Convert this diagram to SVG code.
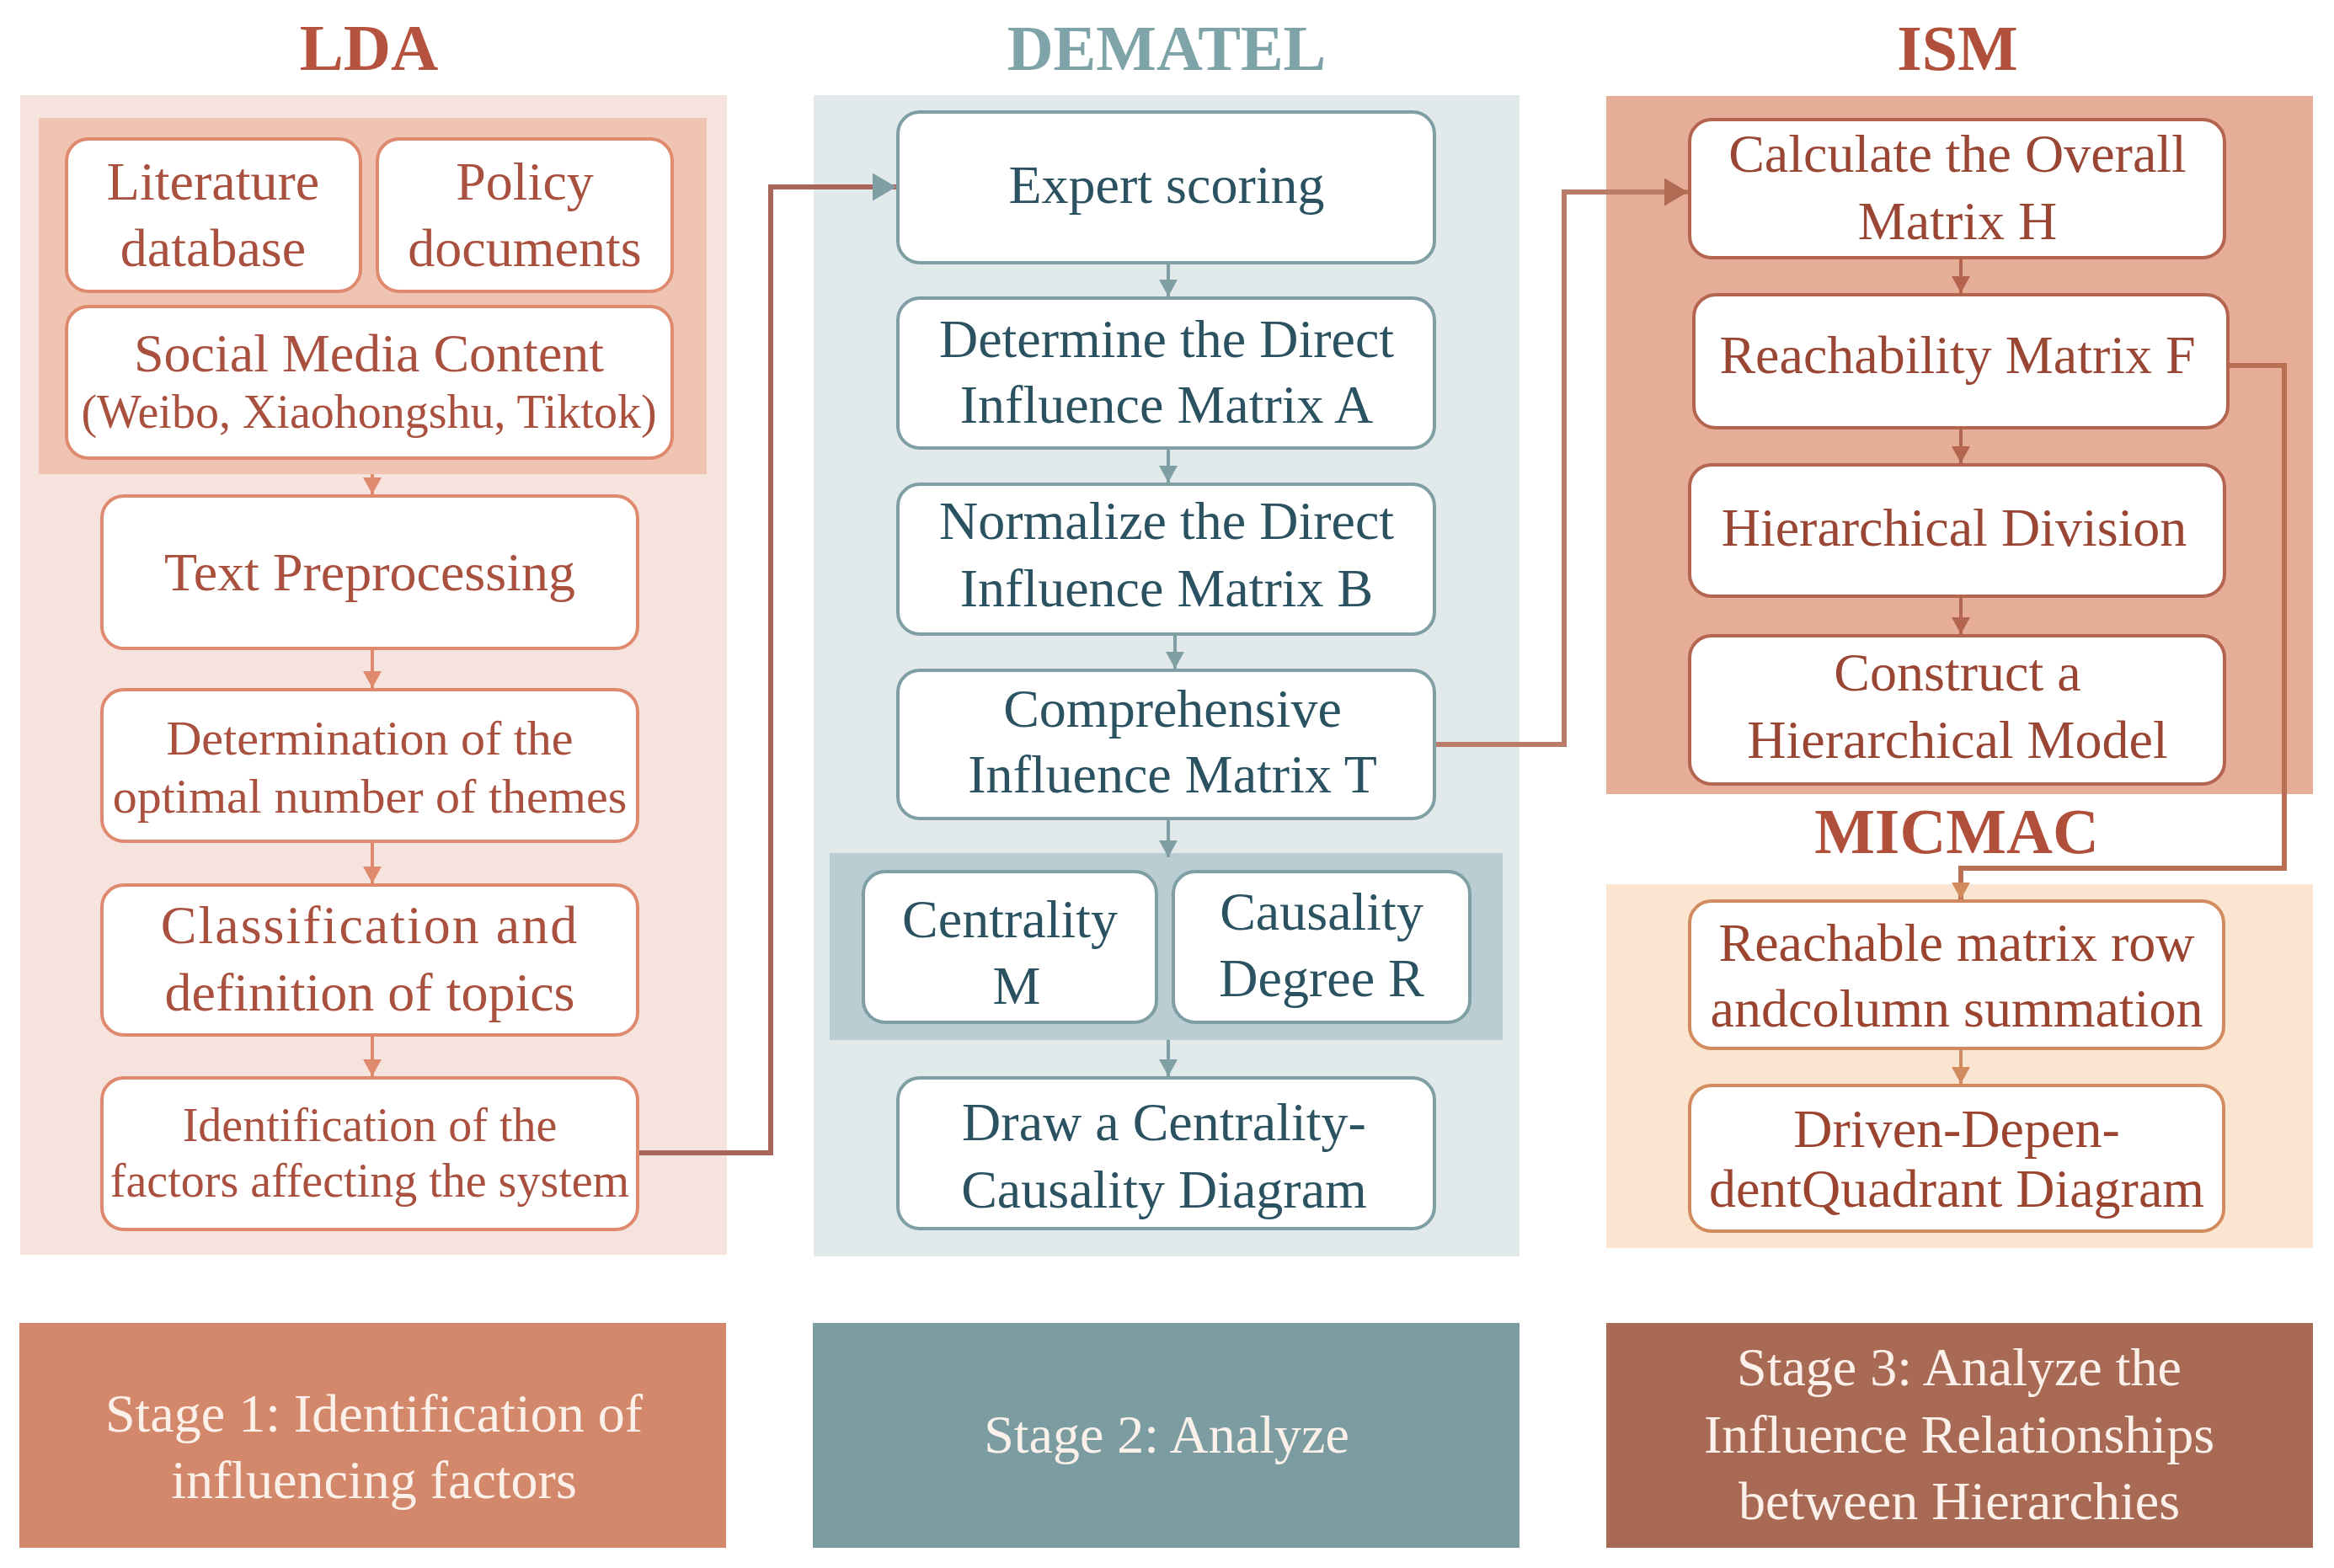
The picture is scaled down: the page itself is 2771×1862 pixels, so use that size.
<svg xmlns="http://www.w3.org/2000/svg" width="2771" height="1862" viewBox="0 0 2771 1862">
<defs>
<style>
text{font-family:"Liberation Serif","Times New Roman",serif;text-anchor:middle;}
.lda rect.b{fill:#fff;stroke:#df8a6e;stroke-width:4;}
.lda text{fill:#a9503e;font-size:64px;}
.dem rect.b{fill:#fff;stroke:#7f9fa4;stroke-width:4;}
.dem text{fill:#2b5261;font-size:64px;}
.ism rect.b{fill:#fff;stroke:#b4654f;stroke-width:4;}
.ism text{fill:#9a4634;font-size:64px;}
.mic rect.b{fill:#fff;stroke:#d28b5e;stroke-width:4;}
.mic text{fill:#9b4430;font-size:64px;}
.stage text{fill:#fbf1ea;font-size:64px;}
.c{fill:none;stroke-width:4;}
.x{fill:none;stroke-width:6;}
</style>
<marker id="aL" viewBox="0 0 20 22" refX="20" refY="11" markerWidth="20" markerHeight="22" markerUnits="userSpaceOnUse" orient="auto"><path d="M0,0L20,11L0,22z" fill="#df8a6e"/></marker>
<marker id="aD" viewBox="0 0 20 22" refX="20" refY="11" markerWidth="20" markerHeight="22" markerUnits="userSpaceOnUse" orient="auto"><path d="M0,0L20,11L0,22z" fill="#7f9fa4"/></marker>
<marker id="aI" viewBox="0 0 20 22" refX="20" refY="11" markerWidth="20" markerHeight="22" markerUnits="userSpaceOnUse" orient="auto"><path d="M0,0L20,11L0,22z" fill="#b4654f"/></marker>
<marker id="aM" viewBox="0 0 20 22" refX="20" refY="11" markerWidth="20" markerHeight="22" markerUnits="userSpaceOnUse" orient="auto"><path d="M0,0L20,11L0,22z" fill="#d28b5e"/></marker>
<marker id="aX" viewBox="0 0 28 33" refX="28" refY="16.5" markerWidth="28" markerHeight="33" markerUnits="userSpaceOnUse" orient="auto"><path d="M0,0L28,16.5L0,33z" fill="#7f9fa4"/></marker>
<marker id="aY" viewBox="0 0 28 33" refX="28" refY="16.5" markerWidth="28" markerHeight="33" markerUnits="userSpaceOnUse" orient="auto"><path d="M0,0L28,16.5L0,33z" fill="#b26a55"/></marker>
</defs>
<rect width="2771" height="1862" fill="#fff"/>

<!-- panels -->
<g id="panels">
<rect x="24" y="113" width="839" height="1377" fill="#f7e3de"/>
<rect x="46" y="140" width="793" height="423" fill="#efc4b3"/>
<rect x="966" y="113" width="838" height="1379" fill="#e2e9ea"/>
<rect x="985" y="1013" width="799" height="222" fill="#b9cdd2"/>
<rect x="1907" y="114" width="839" height="829" fill="#e6ad98"/>
<rect x="1907" y="1050" width="839" height="432" fill="#fbe4d0"/>
</g>

<!-- titles -->
<g id="titles" style="font-weight:bold">
<text x="438" y="83" fill="#b5533e" style="font-size:78px;font-weight:bold">LDA</text>
<text x="1385" y="83" fill="#7ea3a8" style="font-size:76px;font-weight:bold">DEMATEL</text>
<text x="2324" y="83" fill="#b0503b" style="font-size:76px;font-weight:bold">ISM</text>
<text x="2323" y="1013" fill="#b0503b" style="font-size:76px;font-weight:bold">MICMAC</text>
</g>

<!-- connectors -->
<g id="connectors">
<path class="c" stroke="#df8a6e" d="M442,563V587" marker-end="url(#aL)"/>
<path class="c" stroke="#df8a6e" d="M442,770V817" marker-end="url(#aL)"/>
<path class="c" stroke="#df8a6e" d="M442,999V1049" marker-end="url(#aL)"/>
<path class="c" stroke="#df8a6e" d="M442,1229V1278" marker-end="url(#aL)"/>
<path class="x" stroke="#a8665a" d="M757,1369H915V222H1064" marker-end="url(#aX)"/>
<path class="c" stroke="#7f9fa4" d="M1387,312V352" marker-end="url(#aD)"/>
<path class="c" stroke="#7f9fa4" d="M1387,532V573" marker-end="url(#aD)"/>
<path class="c" stroke="#7f9fa4" d="M1395,753V794" marker-end="url(#aD)"/>
<path class="c" stroke="#7f9fa4" d="M1387,972V1018" marker-end="url(#aD)"/>
<path class="c" stroke="#7f9fa4" d="M1387,1235V1278" marker-end="url(#aD)"/>
<path class="x" stroke="#b87c68" d="M1703,884H1857V228H2004" marker-end="url(#aY)"/>
<path class="c" stroke="#b4654f" d="M2328,306V348" marker-end="url(#aI)"/>
<path class="c" stroke="#b4654f" d="M2328,508V550" marker-end="url(#aI)"/>
<path class="c" stroke="#b4654f" d="M2328,708V753" marker-end="url(#aI)"/>
<path class="x" stroke="#b86f52" d="M2645,434H2712V1031H2328V1068" marker-end="url(#aM)"/>
<path class="c" stroke="#d28b5e" d="M2328,1245V1287" marker-end="url(#aM)"/>
</g>

<!-- LDA nodes -->
<g class="lda">
<g id="literature"><rect class="b" x="79" y="165" width="349" height="181" rx="26"/><text x="253" y="237">Literature</text><text x="253" y="316">database</text></g>
<g id="policy"><rect class="b" x="448" y="165" width="350" height="181" rx="26"/><text x="623" y="237">Policy</text><text x="623" y="316">documents</text></g>
<g id="social"><rect class="b" x="79" y="364" width="719" height="180" rx="26"/><text x="438" y="441">Social Media Content</text><text x="438" y="508" style="font-size:56px">(Weibo, Xiaohongshu, Tiktok)</text></g>
<g id="preprocessing"><rect class="b" x="121" y="589" width="636" height="181" rx="26"/><text x="439" y="701">Text Preprocessing</text></g>
<g id="determination"><rect class="b" x="121" y="819" width="636" height="180" rx="26"/><text x="439" y="896" style="font-size:58px">Determination of the</text><text x="439" y="965" style="font-size:58px">optimal number of themes</text></g>
<g id="classification"><rect class="b" x="121" y="1051" width="636" height="178" rx="26"/><text x="439" y="1120" style="letter-spacing:2px">Classification and</text><text x="439" y="1200">definition of topics</text></g>
<g id="identification"><rect class="b" x="121" y="1280" width="636" height="180" rx="26"/><text x="439" y="1355" style="font-size:56px">Identification of the</text><text x="439" y="1421" style="font-size:56px">factors affecting the system</text></g>
</g>

<!-- DEMATEL nodes -->
<g class="dem">
<g id="expert"><rect class="b" x="1066" y="133" width="637" height="179" rx="26"/><text x="1385" y="241">Expert scoring</text></g>
<g id="matrixA"><rect class="b" x="1066" y="354" width="637" height="178" rx="26"/><text x="1385" y="424">Determine the Direct</text><text x="1385" y="502">Influence Matrix A</text></g>
<g id="matrixB"><rect class="b" x="1066" y="575" width="637" height="178" rx="26"/><text x="1385" y="640">Normalize the Direct</text><text x="1385" y="720">Influence Matrix B</text></g>
<g id="matrixT"><rect class="b" x="1066" y="796" width="637" height="176" rx="26"/><text x="1392" y="863">Comprehensive</text><text x="1392" y="941">Influence Matrix T</text></g>
<g id="centrality"><rect class="b" x="1025" y="1035" width="348" height="179" rx="26"/><text x="1199" y="1113">Centrality</text><text x="1207" y="1192">M</text></g>
<g id="causality"><rect class="b" x="1393" y="1035" width="352" height="179" rx="26"/><text x="1569" y="1104">Causality</text><text x="1569" y="1183">Degree R</text></g>
<g id="drawdiagram"><rect class="b" x="1066" y="1280" width="637" height="179" rx="26"/><text x="1382" y="1354">Draw a Centrality-</text><text x="1382" y="1434">Causality Diagram</text></g>
</g>

<!-- ISM nodes -->
<g class="ism">
<g id="matrixH"><rect class="b" x="2006" y="142" width="635" height="164" rx="26"/><text x="2324" y="204">Calculate the Overall</text><text x="2324" y="284">Matrix H</text></g>
<g id="matrixF"><rect class="b" x="2011" y="350" width="634" height="158" rx="26"/><text x="2324" y="443">Reachability Matrix F</text></g>
<g id="division"><rect class="b" x="2006" y="552" width="635" height="156" rx="26"/><text x="2320" y="648">Hierarchical Division</text></g>
<g id="model"><rect class="b" x="2006" y="755" width="635" height="176" rx="26"/><text x="2324" y="820">Construct a</text><text x="2324" y="900">Hierarchical Model</text></g>
</g>

<!-- MICMAC nodes -->
<g class="mic">
<g id="summation"><rect class="b" x="2006" y="1070" width="634" height="175" rx="26"/><text x="2323" y="1141">Reachable matrix row</text><text x="2323" y="1219">andcolumn summation</text></g>
<g id="quadrant"><rect class="b" x="2006" y="1289" width="634" height="173" rx="26"/><text x="2323" y="1362">Driven-Depen-</text><text x="2323" y="1433">dentQuadrant Diagram</text></g>
</g>

<!-- stages -->
<g class="stage">
<g id="stage1"><rect x="23" y="1571" width="839" height="267" fill="#d4886b"/><text x="444" y="1700">Stage 1: Identification of</text><text x="444" y="1779">influencing factors</text></g>
<g id="stage2"><rect x="965" y="1571" width="839" height="267" fill="#7b9ca0"/><text x="1385" y="1725">Stage 2: Analyze</text></g>
<g id="stage3"><rect x="1907" y="1571" width="839" height="267" fill="#a86a55"/><text x="2326" y="1645">Stage 3: Analyze the</text><text x="2326" y="1725">Influence Relationships</text><text x="2326" y="1804">between Hierarchies</text></g>
</g>
</svg>
